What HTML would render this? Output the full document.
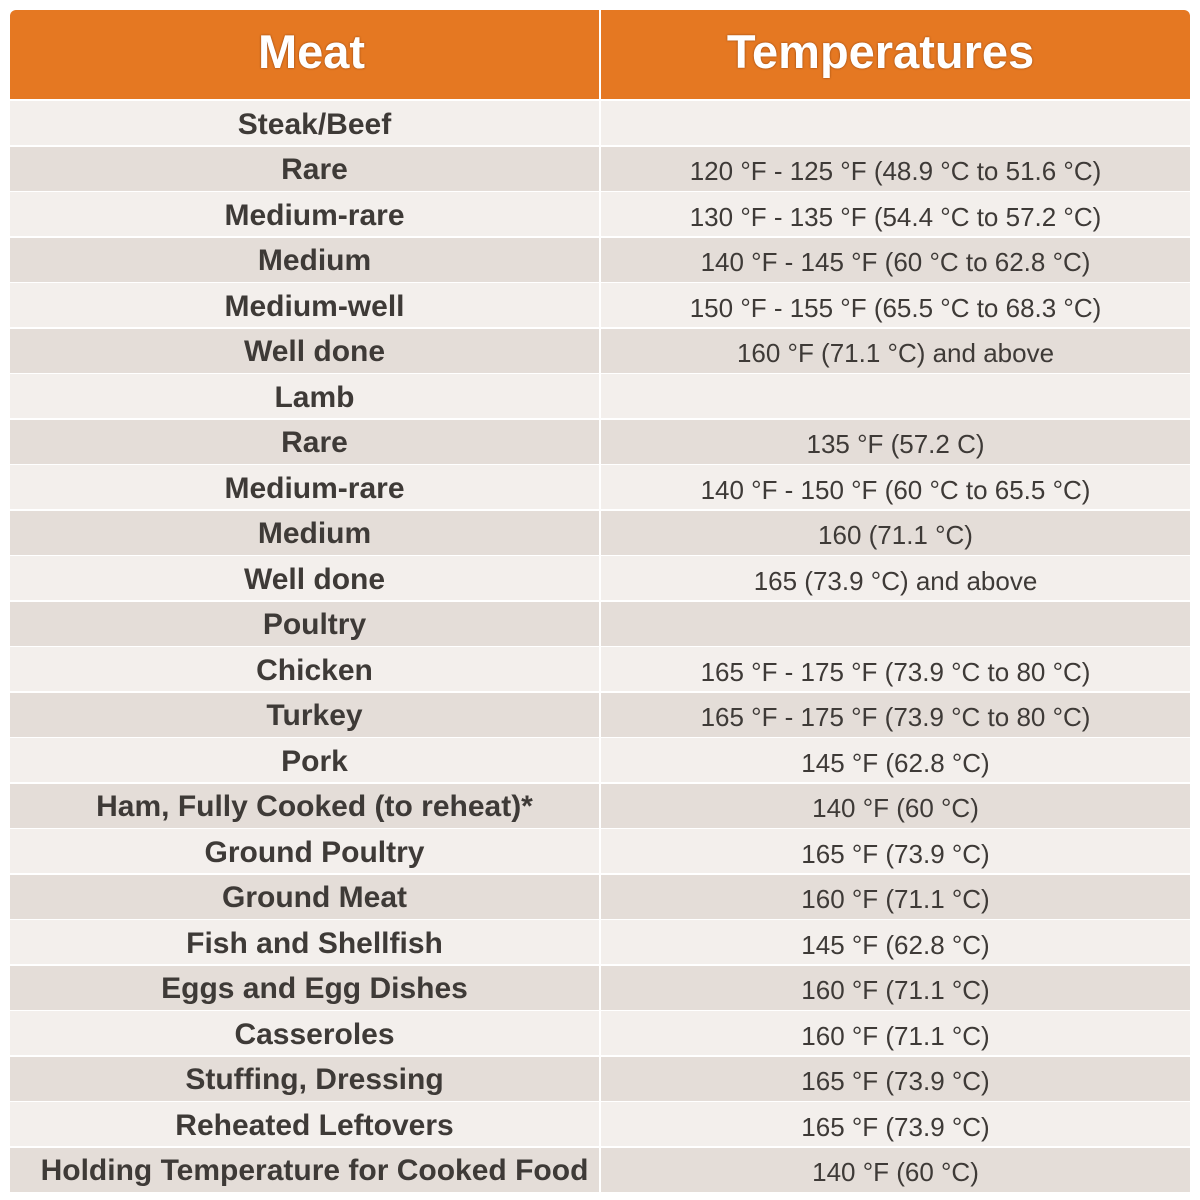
<!DOCTYPE html>
<html><head><style>
body{margin:0;width:1200px;height:1200px;background:#fff;position:relative;overflow:hidden;font-family:"Liberation Sans",sans-serif}
.h{position:absolute;top:10px;height:89px;background:#e57822;color:#fff;font-weight:bold;font-size:47px;display:flex;align-items:center;justify-content:center;text-shadow:0 0 2px #8a4010;padding-bottom:6px;box-sizing:border-box}
.r{position:absolute;left:10px;width:1180px;height:44px;display:flex}
.a{width:589px;display:flex;align-items:center;justify-content:center;padding-left:20px;box-sizing:border-box;font-weight:bold;font-size:30px;color:#3e3a37;padding-top:3px;white-space:nowrap}
.b{width:589px;margin-left:2px;display:flex;align-items:center;justify-content:center;font-size:26px;color:#3e3a37;padding-top:6px;box-sizing:border-box}
.l{background:#f3efec}.d{background:#e4ddd8}
</style></head><body>
<div class="h" style="left:10px;width:589px;border-radius:6px 0 0 0;padding-left:14px">Meat</div>
<div class="h" style="left:601px;width:589px;border-radius:0 6px 0 0;padding-right:30px">Temperatures</div>
<div id="t"></div>
<script>
var rows=[["Steak/Beef",""],["Rare","120 °F - 125 °F (48.9 °C to 51.6 °C)"],["Medium-rare","130 °F - 135 °F (54.4 °C to 57.2 °C)"],["Medium","140 °F - 145 °F (60 °C to 62.8 °C)"],["Medium-well","150 °F - 155 °F (65.5 °C to 68.3 °C)"],["Well done","160 °F (71.1 °C) and above"],["Lamb",""],["Rare","135 °F (57.2 C)"],["Medium-rare","140 °F - 150 °F (60 °C to 65.5 °C)"],["Medium","160 (71.1 °C)"],["Well done","165 (73.9 °C) and above"],["Poultry",""],["Chicken","165 °F - 175 °F (73.9 °C to 80 °C)"],["Turkey","165 °F - 175 °F (73.9 °C to 80 °C)"],["Pork","145 °F (62.8 °C)"],["Ham, Fully Cooked (to reheat)*","140 °F (60 °C)"],["Ground Poultry","165 °F (73.9 °C)"],["Ground Meat","160 °F (71.1 °C)"],["Fish and Shellfish","145 °F (62.8 °C)"],["Eggs and Egg Dishes","160 °F (71.1 °C)"],["Casseroles","160 °F (71.1 °C)"],["Stuffing, Dressing","165 °F (73.9 °C)"],["Reheated Leftovers","165 °F (73.9 °C)"],["Holding Temperature for Cooked Food","140 °F (60 °C)"]];
var h="";rows.forEach(function(r,i){var c=i%2?"d":"l";var y=101+i*45.5;
h+='<div class="r" style="top:'+y+'px"><div class="a '+c+'">'+r[0]+'</div><div class="b '+c+'">'+r[1]+'</div></div>';});
document.getElementById("t").innerHTML=h;
</script>
</body></html>
